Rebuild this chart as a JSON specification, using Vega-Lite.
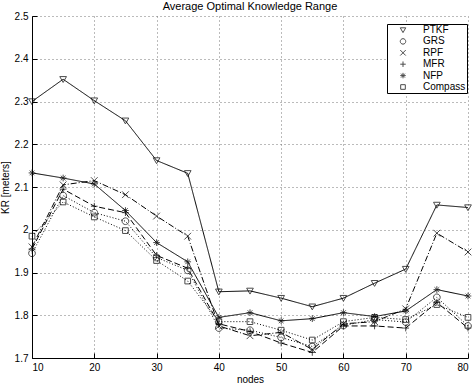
{
  "$schema": "https://vega.github.io/schema/vega-lite/v6.json",
  "autosize": {"type": "none"},
  "width": 436,
  "height": 342,
  "padding": {"left": 32, "top": 16, "right": 6, "bottom": 26},
  "background": "white",
  "title": {"text": "Average Optimal Knowledge Range", "fontSize": 11, "fontWeight": "normal", "font": "Liberation Sans", "color": "black", "offset": -1},
  "config": {
    "font": "Liberation Sans",
    "view": {"stroke": null},
    "axis": {"labelFont": "Liberation Sans", "labelFontSize": 10, "labelColor": "black", "titleFont": "Liberation Sans", "titleFontSize": 10, "titleFontWeight": "normal", "titleColor": "black", "domainColor": "black", "tickColor": "black", "gridColor": "#777", "gridDash": [1, 3], "gridOpacity": 1}
  },
  "data": {"values": [
    {"nodes": 10, "kr": 2.300, "method": "PTKF"}, {"nodes": 15, "kr": 2.352, "method": "PTKF"}, {"nodes": 20, "kr": 2.302, "method": "PTKF"}, {"nodes": 25, "kr": 2.255, "method": "PTKF"}, {"nodes": 30, "kr": 2.162, "method": "PTKF"}, {"nodes": 35, "kr": 2.132, "method": "PTKF"}, {"nodes": 40, "kr": 1.855, "method": "PTKF"}, {"nodes": 45, "kr": 1.857, "method": "PTKF"}, {"nodes": 50, "kr": 1.840, "method": "PTKF"}, {"nodes": 55, "kr": 1.820, "method": "PTKF"}, {"nodes": 60, "kr": 1.840, "method": "PTKF"}, {"nodes": 65, "kr": 1.875, "method": "PTKF"}, {"nodes": 70, "kr": 1.908, "method": "PTKF"}, {"nodes": 75, "kr": 2.058, "method": "PTKF"}, {"nodes": 80, "kr": 2.052, "method": "PTKF"},
    {"nodes": 10, "kr": 1.945, "method": "GRS"}, {"nodes": 15, "kr": 2.080, "method": "GRS"}, {"nodes": 20, "kr": 2.040, "method": "GRS"}, {"nodes": 25, "kr": 2.020, "method": "GRS"}, {"nodes": 30, "kr": 1.935, "method": "GRS"}, {"nodes": 35, "kr": 1.905, "method": "GRS"}, {"nodes": 40, "kr": 1.770, "method": "GRS"}, {"nodes": 45, "kr": 1.765, "method": "GRS"}, {"nodes": 50, "kr": 1.748, "method": "GRS"}, {"nodes": 55, "kr": 1.727, "method": "GRS"}, {"nodes": 60, "kr": 1.776, "method": "GRS"}, {"nodes": 65, "kr": 1.790, "method": "GRS"}, {"nodes": 70, "kr": 1.784, "method": "GRS"}, {"nodes": 75, "kr": 1.842, "method": "GRS"}, {"nodes": 80, "kr": 1.775, "method": "GRS"},
    {"nodes": 10, "kr": 1.960, "method": "RPF"}, {"nodes": 15, "kr": 2.105, "method": "RPF"}, {"nodes": 20, "kr": 2.115, "method": "RPF"}, {"nodes": 25, "kr": 2.082, "method": "RPF"}, {"nodes": 30, "kr": 2.032, "method": "RPF"}, {"nodes": 35, "kr": 1.985, "method": "RPF"}, {"nodes": 40, "kr": 1.775, "method": "RPF"}, {"nodes": 45, "kr": 1.752, "method": "RPF"}, {"nodes": 50, "kr": 1.760, "method": "RPF"}, {"nodes": 55, "kr": 1.720, "method": "RPF"}, {"nodes": 60, "kr": 1.780, "method": "RPF"}, {"nodes": 65, "kr": 1.785, "method": "RPF"}, {"nodes": 70, "kr": 1.815, "method": "RPF"}, {"nodes": 75, "kr": 1.992, "method": "RPF"}, {"nodes": 80, "kr": 1.948, "method": "RPF"},
    {"nodes": 10, "kr": 1.955, "method": "MFR"}, {"nodes": 15, "kr": 2.095, "method": "MFR"}, {"nodes": 20, "kr": 2.055, "method": "MFR"}, {"nodes": 25, "kr": 2.040, "method": "MFR"}, {"nodes": 30, "kr": 1.940, "method": "MFR"}, {"nodes": 35, "kr": 1.910, "method": "MFR"}, {"nodes": 40, "kr": 1.780, "method": "MFR"}, {"nodes": 45, "kr": 1.762, "method": "MFR"}, {"nodes": 50, "kr": 1.735, "method": "MFR"}, {"nodes": 55, "kr": 1.713, "method": "MFR"}, {"nodes": 60, "kr": 1.775, "method": "MFR"}, {"nodes": 65, "kr": 1.775, "method": "MFR"}, {"nodes": 70, "kr": 1.770, "method": "MFR"}, {"nodes": 75, "kr": 1.830, "method": "MFR"}, {"nodes": 80, "kr": 1.770, "method": "MFR"},
    {"nodes": 10, "kr": 2.133, "method": "NFP"}, {"nodes": 15, "kr": 2.121, "method": "NFP"}, {"nodes": 20, "kr": 2.107, "method": "NFP"}, {"nodes": 25, "kr": 2.045, "method": "NFP"}, {"nodes": 30, "kr": 1.970, "method": "NFP"}, {"nodes": 35, "kr": 1.925, "method": "NFP"}, {"nodes": 40, "kr": 1.795, "method": "NFP"}, {"nodes": 45, "kr": 1.806, "method": "NFP"}, {"nodes": 50, "kr": 1.787, "method": "NFP"}, {"nodes": 55, "kr": 1.792, "method": "NFP"}, {"nodes": 60, "kr": 1.806, "method": "NFP"}, {"nodes": 65, "kr": 1.797, "method": "NFP"}, {"nodes": 70, "kr": 1.810, "method": "NFP"}, {"nodes": 75, "kr": 1.860, "method": "NFP"}, {"nodes": 80, "kr": 1.845, "method": "NFP"},
    {"nodes": 10, "kr": 1.985, "method": "Compass"}, {"nodes": 15, "kr": 2.065, "method": "Compass"}, {"nodes": 20, "kr": 2.030, "method": "Compass"}, {"nodes": 25, "kr": 1.998, "method": "Compass"}, {"nodes": 30, "kr": 1.928, "method": "Compass"}, {"nodes": 35, "kr": 1.880, "method": "Compass"}, {"nodes": 40, "kr": 1.785, "method": "Compass"}, {"nodes": 45, "kr": 1.785, "method": "Compass"}, {"nodes": 50, "kr": 1.765, "method": "Compass"}, {"nodes": 55, "kr": 1.742, "method": "Compass"}, {"nodes": 60, "kr": 1.785, "method": "Compass"}, {"nodes": 65, "kr": 1.795, "method": "Compass"}, {"nodes": 70, "kr": 1.790, "method": "Compass"}, {"nodes": 75, "kr": 1.825, "method": "Compass"}, {"nodes": 80, "kr": 1.795, "method": "Compass"}
  ]},
  "layer": [
    {
      "transform": [{"calculate": "datum.method", "as": "series"}],
      "mark": {"type": "line", "color": "black", "strokeWidth": 1},
      "encoding": {
        "x": {"field": "nodes", "type": "quantitative", "scale": {"domain": [10, 80], "nice": false}, "axis": {"title": "nodes", "values": [10, 20, 30, 40, 50, 60, 70, 80], "tickSize": -5, "labelPadding": 9, "titlePadding": 2, "grid": true}},
        "y": {"field": "kr", "type": "quantitative", "scale": {"domain": [1.7, 2.5], "nice": false, "zero": false}, "axis": {"title": "KR [meters]", "values": [1.7, 1.8, 1.9, 2.0, 2.1, 2.2, 2.3, 2.4, 2.5], "labelExpr": "format(datum.value, '.2~f')", "tickSize": -5, "labelPadding": 9, "titlePadding": 4, "grid": true}},
        "detail": {"field": "series"},
        "strokeDash": {"field": "series", "type": "nominal", "legend": null, "sort": ["PTKF", "GRS", "RPF", "MFR", "NFP", "Compass"], "scale": {"range": [[1, 0], [1, 2], [6, 2, 1, 2], [6, 3], [1, 0], [1, 2]]}}
      }
    },
    {
      "mark": {"type": "point", "filled": false, "color": "black", "strokeWidth": 1, "size": 45},
      "encoding": {
        "x": {"field": "nodes", "type": "quantitative"},
        "y": {"field": "kr", "type": "quantitative"},
        "shape": {"field": "method", "type": "nominal", "sort": ["PTKF", "GRS", "RPF", "MFR", "NFP", "Compass"], "scale": {"range": ["M-1,-0.8L1,-0.8L0,0.95Z", "M1,0A1,1,0,1,1,-1,0A1,1,0,1,1,1,0Z", "M-1,-1L1,1M-1,1L1,-1", "M-1,0L1,0M0,-1L0,1", "M-1,0L1,0M0,-1L0,1M-0.7,-0.7L0.7,0.7M-0.7,0.7L0.7,-0.7", "M-0.85,-0.85L0.85,-0.85L0.85,0.85L-0.85,0.85Z"]},
          "legend": {"title": null, "orient": "none", "legendX": 355, "legendY": 8, "fillColor": "white", "strokeColor": "black", "padding": 1, "labelFontSize": 10, "labelColor": "black", "symbolSize": 30, "symbolStrokeColor": "black", "symbolStrokeWidth": 1, "rowPadding": 1.4, "labelOffset": 15, "symbolOffset": 10}}
      }
    }
  ]
}
